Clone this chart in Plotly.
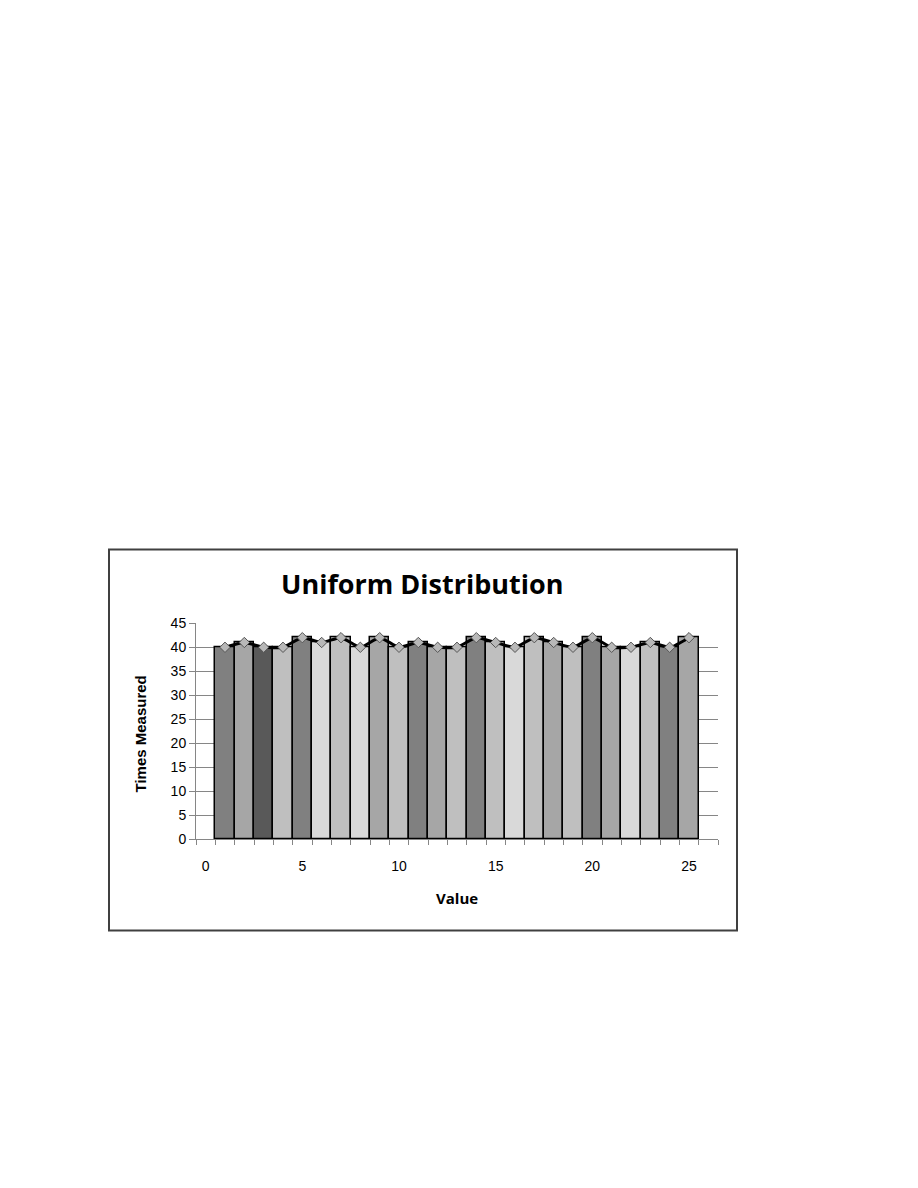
import plotly.graph_objects as go

# measured values 1..25 and how often each one came up
values = list(range(1, 26))
times_measured = [40, 41, 40, 40, 42, 41, 42, 40, 42, 40, 41, 40, 40,
                  42, 41, 40, 42, 41, 40, 42, 40, 40, 41, 40, 42]
x_tick_labels = [0, 5, 10, 15, 20, 25]
y_tick_labels = [0, 5, 10, 15, 20, 25, 30, 35, 40, 45]

# grey shade of every bar (style only)
bar_colors = ["#808080", "#a6a6a6", "#595959", "#bfbfbf", "#808080",
              "#d9d9d9", "#bfbfbf", "#d9d9d9", "#a6a6a6", "#bfbfbf",
              "#808080", "#a6a6a6", "#bfbfbf", "#808080", "#bfbfbf",
              "#d9d9d9", "#bfbfbf", "#a6a6a6", "#bfbfbf", "#808080",
              "#a6a6a6", "#d9d9d9", "#bfbfbf", "#808080", "#a6a6a6"]

# the page body has an 8px margin, so the figure is a bit smaller than the window
OFF = 8
W, H = 918 - 2 * OFF, 1188 - 2 * OFF
Y_FIX = 381 / 376  # small vertical stretch seen in the last render


def px_x(p):
    return (p - OFF) / W


def px_y(p):
    p = 549 + (p - 549) * Y_FIX
    return 1 - (p - OFF) / H


fig = go.Figure()

fig.add_trace(go.Bar(
    x=values, y=times_measured, width=1,
    marker=dict(color=bar_colors, line=dict(color="black", width=1.5)),
    hoverinfo="x+y",
))

fig.add_trace(go.Scatter(
    x=values, y=times_measured, mode="lines+markers",
    line=dict(color="black", width=3, shape="spline", smoothing=0.6),
    marker=dict(symbol="diamond", size=8, color="#b8b8b8",
                line=dict(color="#555555", width=1)),
))

fig.update_layout(
    width=W, height=H,
    margin=dict(l=0, r=0, t=0, b=0),
    paper_bgcolor="white", plot_bgcolor="white",
    showlegend=False,
    bargap=0,
    font=dict(family="Liberation Sans, Arial", size=14, color="black"),
    xaxis=dict(
        domain=[px_x(196), px_x(718)],
        range=[-0.5, 26.5],
        tickvals=x_tick_labels,
        ticktext=[str(v) for v in x_tick_labels],
        ticks="",
        ticklabelstandoff=14,
        showgrid=False, zeroline=False,
        showline=True, linecolor="#868686", linewidth=1,
        minor=dict(ticks="outside", tickvals=[v - 0.5 for v in range(0, 28)],
                   ticklen=5, tickcolor="#868686", showgrid=False),
        tickfont=dict(size=14),
    ),
    yaxis=dict(
        domain=[px_y(839), px_y(622.7)],
        range=[0, 45],
        tickvals=y_tick_labels,
        ticks="outside", ticklen=6, tickcolor="#868686",
        showgrid=True, gridcolor="#868686", gridwidth=1,
        zeroline=False,
        showline=True, linecolor="#868686", linewidth=1,
        tickfont=dict(size=14),
    ),
    shapes=[dict(type="rect", xref="paper", yref="paper",
                 x0=px_x(109), x1=px_x(737), y0=px_y(930), y1=px_y(549),
                 line=dict(color="#404040", width=2))],
    annotations=[
        dict(text="<b>Uniform Distribution</b>", xref="paper", yref="paper",
             x=px_x(422), y=px_y(583), showarrow=False,
             xanchor="center", yanchor="middle",
             font=dict(family="Open Sans", size=27, color="black")),
        dict(text="<b>Times Measured</b>", xref="paper", yref="paper",
             x=px_x(141), y=px_y(734), showarrow=False, textangle=-90,
             xanchor="center", yanchor="middle",
             font=dict(family="Liberation Sans, Arial", size=15, color="black")),
        dict(text="<b>Value</b>", xref="paper", yref="paper",
             x=px_x(457), y=px_y(898), showarrow=False,
             xanchor="center", yanchor="middle",
             font=dict(family="Open Sans", size=15, color="black")),
    ],
)

fig.write_html("out.html")
